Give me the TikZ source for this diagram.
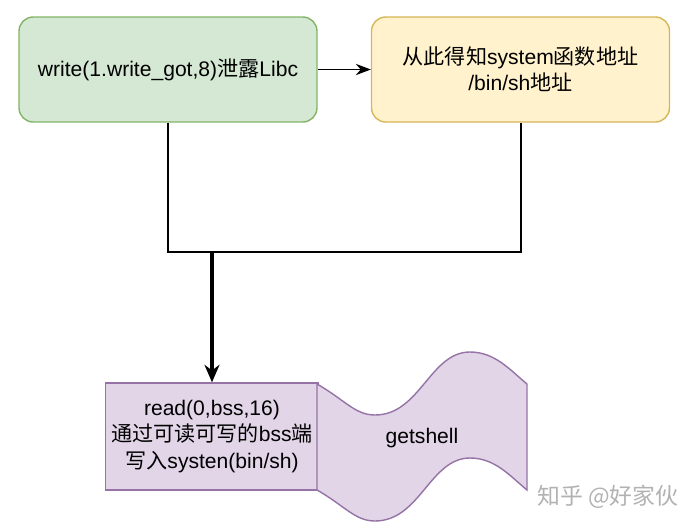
\documentclass[tikz,border=0pt]{standalone}
\usepackage{fontspec}
\setmainfont{Liberation Sans}
\newfontfamily\cjk{Noto Sans CJK SC}
\usepackage{tikz}
\usetikzlibrary{arrows.meta, positioning, calc}
\definecolor{greenfill}{HTML}{D5E8D4}
\definecolor{greenline}{HTML}{82B366}
\definecolor{yellowfill}{HTML}{FFF2CC}
\definecolor{yellowline}{HTML}{D6B656}
\definecolor{purplefill}{HTML}{E1D5E7}
\definecolor{purpleline}{HTML}{9673A6}

\begin{document}
\begin{tikzpicture}[x=0.02cm, y=-0.02cm,
    % Node styles
    box/.style={rectangle, rounded corners=8pt, thick, minimum width=5.96cm, minimum height=2.1cm, text centered, align=center, font=\fontsize{12}{15}\selectfont},
    procbox/.style={rectangle, thick, draw=purpleline, fill=purplefill, minimum width=4.2cm, minimum height=2.14cm, align=center, font=\fontsize{12}{15}\selectfont},
    link/.style={thick, line width=1pt},
    arrow/.style={-{Stealth[length=3mm]}, line width=1pt}
]
\useasboundingbox (0,0) rectangle (691,528);

% Top boxes
\node[box, draw=greenline, fill=greenfill] (leak) at (168,69.5) {write(1.write\_got,8){\cjk 泄露}Libc};
\node[box, draw=yellowline, fill=yellowfill] (addr) at (520.5,69.5) {{\cjk 从此得知}system{\cjk 函数地址}\\/bin/sh{\cjk 地址}};
\draw[arrow] (leak.east) -- (addr.west);

% Joining lines
\coordinate (joinl) at (168,252);
\coordinate (joinr) at (521,252);
\coordinate (joinm) at (212,252);
\draw[link] (leak.south) -- (joinl) -- (joinr) -- (addr.south -| joinr);

% Bottom
\node[procbox] (read) at (212,436.5) {read(0,bss,16)\\{\cjk 通过可读可写的}bss{\cjk 端}\\{\cjk 写入}systen(bin/sh)};
\draw[-{Stealth[length=3.5mm,width=3mm]}, line width=2.2pt] (joinm) -- (read.north);

\draw[thick, draw=purpleline, fill=purplefill]
  (317,384) .. controls (345,400) and (355,415) .. (375,415)
  .. controls (420,415) and (430,352) .. (470,352)
  .. controls (495,352) and (510,370) .. (527,384)
  -- (527,490) .. controls (510,476) and (495,458) .. (470,458)
  .. controls (430,458) and (420,521) .. (375,521)
  .. controls (355,521) and (345,506) .. (317,490) -- cycle;
\node[font=\fontsize{12}{15}\selectfont] (shell) at (422,438) {getshell};

% Watermark
\node[text=gray!60, font=\cjk\fontsize{13}{15}\selectfont] (mark) at (608,497) {知乎 @好家伙};
\end{tikzpicture}
\end{document}
